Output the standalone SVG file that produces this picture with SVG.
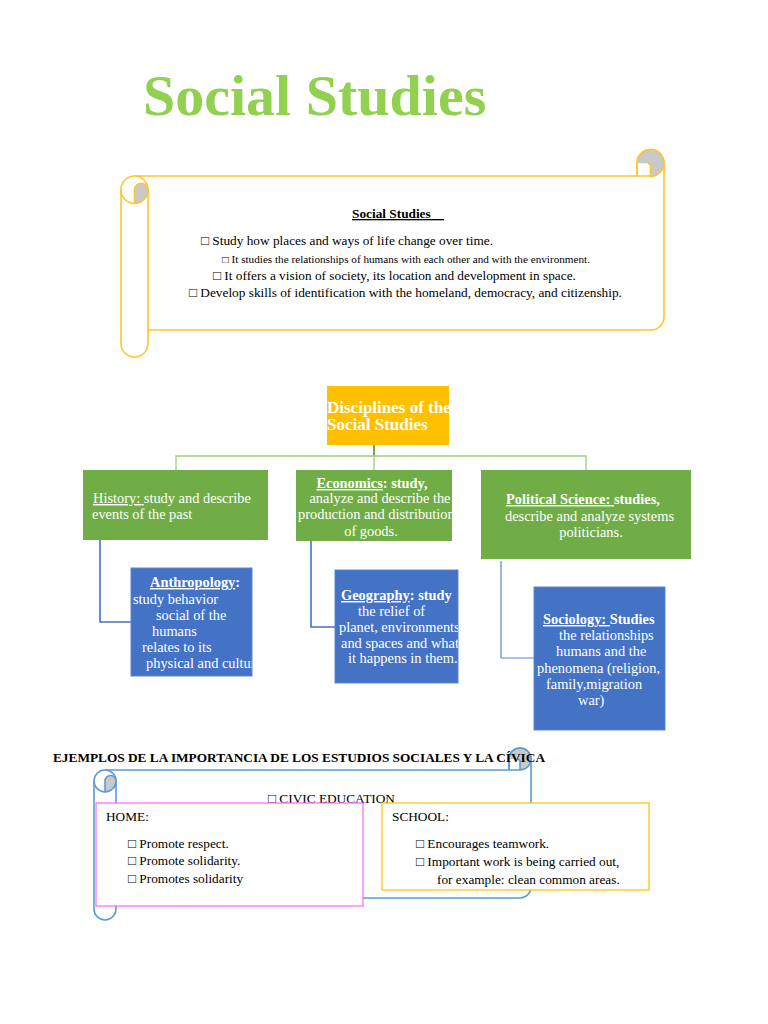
<svg xmlns="http://www.w3.org/2000/svg" width="768" height="1024" viewBox="0 0 768 1024">
<style>
text{font-family:"Liberation Serif","Times New Roman",serif;fill:#000}
.w{fill:#fff;font-size:14.4px}
.b{font-weight:bold}
.u{text-decoration:underline}
.s13{font-size:13.3px}
.ys{fill:#fff;stroke:#FFC52E;stroke-width:1.6}
.bs{fill:#fff;stroke:#5B9BD5;stroke-width:1.6}
.gray{fill:#C9C9C9}
.gl{stroke:#9BCF7A;stroke-width:1.3;fill:none}
.bl{stroke:#4472C4;stroke-width:1.6;fill:none}
.green{fill:#70AD47}
.blue{fill:#4472C4;stroke:#5B86D0;stroke-width:1}
</style>
<defs>
<clipPath id="cD"><rect x="327" y="386" width="122" height="59"/></clipPath>
<clipPath id="cE"><rect x="296" y="470" width="156" height="71"/></clipPath>
<clipPath id="cA"><rect x="131" y="568" width="121" height="108"/></clipPath>
<clipPath id="cG"><rect x="335" y="570" width="123" height="113"/></clipPath>
</defs>
<rect width="768" height="1024" fill="#fff"/>

<text id="title" x="143" y="115" class="b" style="font-size:58px;fill:#92D050">Social Studies</text>

<g id="scroll1">
<path class="ys" d="M134.5,176 H637 V163 A13.5,13.5 0 0 1 664,163 V317 A13,13 0 0 1 651,330 H148"/>
<path class="gray" d="M637,163 A13.5,13.5 0 0 1 664,163 A13.5,13.5 0 0 1 650.5,176.5 V166 A2.5,2.5 0 0 0 648,163.5 Z"/>
<path fill="none" stroke="#FFC52E" stroke-width="1.6" d="M637,176 V163 A13.5,13.5 0 0 1 664,163 A13.5,13.5 0 0 1 650.5,176.5 V166 A2.5,2.5 0 0 0 648,163.5 M637,176 H651"/>
<rect class="ys" x="121" y="176" width="27" height="181" rx="13.5"/>
<path class="gray" d="M134.5,203.5 V190 A6.75,6.75 0 0 1 148,190 A13.5,13.5 0 0 1 134.5,203.5 Z"/>
<path fill="none" stroke="#FFC52E" stroke-width="1.6" d="M121,190 A13.5,13.5 0 0 0 148,190 M134.5,203.5 V190 A6.75,6.75 0 0 1 148,190"/>
<text x="352" y="218" class="b u s13">Social Studies&#160;&#160;&#160;&#160;</text>
<text x="201" y="245" class="s13">□ Study how places and ways of life change over time.</text>
<text x="222" y="263" style="font-size:10px" textLength="368" lengthAdjust="spacingAndGlyphs">□ It studies the relationships of humans with each other and with the environment.</text>
<text x="213" y="280" class="s13">□ It offers a vision of society, its location and development in space.</text>
<text x="189" y="297" class="s13">□ Develop skills of identification with the homeland, democracy, and citizenship.</text>
</g>

<g id="connectors">
<line x1="374" y1="445" x2="374" y2="456" stroke="#70AD47" stroke-width="2"/>
<path class="gl" d="M176,470 V456 H586 V470 M374,456 V470"/>
<path class="bl" d="M100,540 V622 H131"/>
<path class="bl" d="M311,541 V627 H335"/>
<path class="bl" style="stroke:#5B86D0;stroke-width:1.2" d="M501,561 V658 H534"/>
</g>

<g id="disciplines">
<rect x="327" y="386" width="122" height="59" fill="#FFC000"/>
<g clip-path="url(#cD)">
<text x="327" y="413" class="b" style="fill:#fff;font-size:17px">Disciplines of the</text>
<text x="327" y="430" class="b" style="fill:#fff;font-size:17px">Social Studies</text>
</g>
</g>

<g id="history">
<rect class="green" x="83" y="470" width="185" height="70"/>
<text x="93" y="503" class="w"><tspan class="u">History:&#160;</tspan>study and describe</text>
<text x="92" y="519" class="w">events of the past</text>
</g>

<g id="economics">
<rect class="green" x="296" y="470" width="156" height="71"/>
<g clip-path="url(#cE)">
<text x="372" y="488" class="w b" text-anchor="middle"><tspan class="u">Economics</tspan>: study,</text>
<text x="380" y="503" class="w" text-anchor="middle">analyze and describe the</text>
<text x="298" y="519" class="w">production and distribution</text>
<text x="371" y="536" class="w" text-anchor="middle">of goods.</text>
</g>
</g>

<g id="political">
<rect class="green" x="481" y="470" width="210" height="89"/>
<text x="506" y="504" class="w b"><tspan class="u">Political Science:&#160;</tspan>studies,</text>
<text x="505" y="521" class="w">describe and analyze systems</text>
<text x="591" y="537" class="w" text-anchor="middle">politicians.</text>
</g>

<g id="anthropology">
<rect class="blue" x="131" y="568" width="121" height="108"/>
<g clip-path="url(#cA)">
<text x="150" y="587" class="w b"><tspan class="u">Anthropology</tspan>:</text>
<text x="133" y="604" class="w">study behavior</text>
<text x="156" y="620" class="w">social of the</text>
<text x="152" y="636" class="w">humans</text>
<text x="142" y="652" class="w">relates to its</text>
<text x="146" y="668" class="w">physical and cultural</text>
</g>
</g>

<g id="geography">
<rect class="blue" x="335" y="570" width="123" height="113"/>
<g clip-path="url(#cG)">
<text x="341" y="600" class="w b"><tspan class="u">Geography</tspan>: study</text>
<text x="358" y="616" class="w">the relief of</text>
<text x="339" y="632" class="w">planet, environments</text>
<text x="341" y="648" class="w">and spaces and what</text>
<text x="348" y="663" class="w">it happens in them.</text>
</g>
</g>

<g id="sociology">
<rect class="blue" x="534" y="587" width="131" height="143"/>
<text x="543" y="624" class="w b"><tspan class="u">Sociology:&#160;</tspan>Studies</text>
<text x="559" y="640" class="w">the relationships</text>
<text x="556" y="656" class="w">humans and the</text>
<text x="537" y="673" class="w">phenomena (religion,</text>
<text x="546" y="689" class="w">family,migration</text>
<text x="578" y="705" class="w">war)</text>
</g>

<g id="scroll2">
<path class="bs" d="M105,770 H509 V759 A11,11 0 0 1 531,759 V887 A11,11 0 0 1 520,898 H116"/>
<path class="gray" d="M509,759 A11,11 0 0 1 531,759 A11,11 0 0 1 520,770 V761.5 A2,2 0 0 0 518,759.5 Z"/>
<path fill="none" stroke="#5B9BD5" stroke-width="1.6" d="M509,770 V759 A11,11 0 0 1 531,759 A11,11 0 0 1 520,770 V761.5 A2,2 0 0 0 518,759.5 M509,770 H520"/>
<rect class="bs" x="94" y="770" width="22" height="150" rx="11"/>
<path class="gray" d="M105,792 V781 A5.5,5.5 0 0 1 116,781 A11,11 0 0 1 105,792 Z"/>
<path fill="none" stroke="#5B9BD5" stroke-width="1.6" d="M94,781 A11,11 0 0 0 116,781 M105,792 V781 A5.5,5.5 0 0 1 116,781"/>
<text x="268" y="803" class="s13">□ CIVIC EDUCATION</text>
</g>

<text id="heading" x="53" y="762" class="b s13" textLength="492" lengthAdjust="spacingAndGlyphs">EJEMPLOS DE LA IMPORTANCIA DE LOS ESTUDIOS SOCIALES Y LA CÍVICA</text>

<g id="home">
<rect x="96" y="803" width="267" height="103" fill="#fff" stroke="#FF66FF" stroke-width="1.2"/>
<text x="106" y="821" class="s13">HOME:</text>
<text x="128" y="848" class="s13">□ Promote respect.</text>
<text x="128" y="865" class="s13">□ Promote solidarity.</text>
<text x="128" y="883" class="s13">□ Promotes solidarity</text>
</g>

<g id="school">
<rect x="382" y="803" width="267" height="87" fill="#fff" stroke="#FFC000" stroke-width="1.2"/>
<text x="392" y="821" class="s13">SCHOOL:</text>
<text x="416" y="848" class="s13">□ Encourages teamwork.</text>
<text x="416" y="866" class="s13">□ Important work is being carried out,</text>
<text x="437" y="884" class="s13">for example: clean common areas.</text>
</g>
</svg>
